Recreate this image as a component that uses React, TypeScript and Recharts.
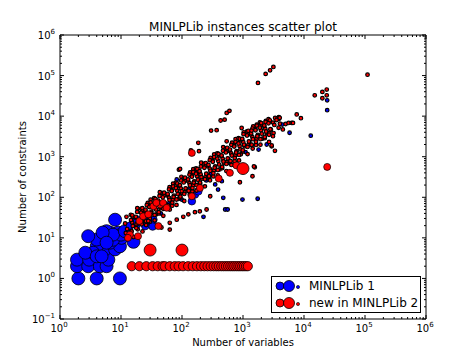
import React from "react";
import { ScatterChart, Scatter, XAxis, YAxis, Legend } from "recharts";

// axis decades
const xMajor = [1, 10, 100, 1000, 10000, 100000, 1000000];
const yMajor = [0.1, 1, 10, 100, 1000, 10000, 100000, 1000000];

// MINLPLib 1 instances: [variables, constraints]
const lib1Large: [number, number][] = [
  [2, 1], [4, 1], [9.6, 1], [1.9, 2], [1.9, 2.9], [2.9, 2], [3, 2.9], [4.5, 2],
  [5.8, 2], [6.2, 2.9], [5.5, 5.2], [8, 5.2], [9.6, 6.2], [4, 6.2], [4, 9.1],
  [3.5, 4.3], [2.6, 4.3], [4, 3.5], [2.9, 11], [6.6, 13.4], [9, 13.4], [10.2, 10],
  [8, 28], [6.6, 7.6], [4.8, 3.5], [5.8, 14.6], [7.4, 9], [10, 12], [7.4, 12],
  [5, 13.5], [5.8, 7.6], [11.6, 14.6], [16, 8],
];
const lib1Medium: [number, number][] = [
  [16, 26], [18, 21], [25, 26], [34, 28], [25, 34], [19, 28], [26, 23.5], [32, 21],
  [25, 19.5], [18, 24], [25, 37], [33, 19], [163, 117], [185, 140], [145, 80], [14, 20],
];
const lib1Small: [number, number][] = [
  [82, 275], [175, 400], [510, 50], [560, 50], [225, 33], [390, 155], [350, 207],
  [475, 97], [93, 117], [99, 88], [450, 250], [2450, 2000], [4400, 6200], [5800, 3900],
  [12900, 3300], [24000, 24600], [24000, 14000], [980, 88], [1740, 92], [130, 160],
  [250, 260], [600, 700], [1100, 1300], [300, 380], [60, 70], [45, 40], [1800, 1500],
];

// new in MINLPLib 2
const lib2Small: [number, number][] = [
  [12.3, 33], [11.7, 22.6], [12.6, 16.5], [12.0, 13.2],
  [14.5, 37], [15.6, 33], [15.2, 24], [14.8, 14.8], [15.9, 10.5],
  [18.5, 54], [17.4, 32], [19.1, 27.5], [18.0, 21.8], [18.8, 16.2],
  [21.3, 52], [22.7, 46], [23.3, 29], [22, 23.8], [22.5, 14.4],
  [27.5, 73], [25.2, 45], [26.5, 39.5], [26.9, 25], [25.8, 20.6],
  [30.6, 87], [29, 60], [31.5, 44], [30.2, 35], [29.6, 25],
  [34.9, 95], [37.1, 84], [36.3, 61], [38, 38], [35.6, 27],
  [43.3, 133], [40.6, 79], [42.5, 68], [44.4, 54], [41.7, 40],
  [48.5, 126], [51.5, 111], [52.9, 70], [50, 57], [49.4, 35],
  [62.5, 178], [58.1, 110], [61.2, 97], [59.5, 61], [63, 50],
  [71.4, 217], [67.8, 149], [73.5, 109], [70.4, 87], [69, 62],
  [79.6, 228], [84.5, 203], [82.8, 147], [86.7, 91], [81.2, 65],
  [97.8, 320], [92.2, 190], [95.9, 164], [100.4, 130], [94, 97],
  [106.6, 293], [113.3, 259], [116.4, 162], [110, 133], [108.8, 81],
  [136, 410], [126.1, 253], [132.7, 222], [129, 140], [134, 116],
  [153, 492], [145.5, 337], [158, 247], [151, 197], [148, 140],
  [169.8, 513], [180.2, 457], [176.8, 331], [185, 205], [173.4, 146],
  [206, 709], [194, 421], [202.2, 364], [212, 287], [198.5, 214],
  [232.8, 674], [247.3, 595], [254, 372], [240.5, 307], [237.6, 186],
  [295, 932], [271.6, 575], [285.7, 504], [278, 318], [288, 263],
  [336.6, 1145], [320, 785], [349.5, 576], [333, 458], [326, 327],
  [378, 1212], [401.7, 1079], [393.5, 782], [413, 485], [386, 344],
  [473.8, 1726], [446, 1026], [465, 886], [487.6, 700], [455, 522],
  [523.8, 1605], [556, 1417], [571, 886], [540, 731], [534, 443],
  [661, 2220], [611, 1371], [640, 1202], [624, 757], [646, 627],
  [754.8, 2714], [718, 1861], [784, 1365], [747, 1086], [731, 776],
  [844, 2858], [896, 2545], [879, 1844], [922, 1143], [861, 811],
  [1030, 4000], [970, 2640], [1011, 2280], [1060, 1800], [993, 1344],
  [1164, 4200], [1236, 3712], [1272, 2320], [1200, 1914], [1188, 1160],
  [1470, 5610], [1358, 3465], [1428, 3036], [1386, 1914], [1442, 1584],
  [1683, 6200], [1600, 4680], [1749, 3432], [1666, 2730], [1633, 1950],
  [1892, 6975], [2008, 6210], [1970, 4500], [2067, 2790], [1930, 1980],
  [2369, 7600], [2231, 5610], [2323, 4845], [2438, 3825], [2277, 2856],
  [2619, 8400], [2781, 7424], [2862, 4640], [2700, 3828], [2673, 2320],
  [3360, 9000], [3104, 6930], [3264, 6072], [3168, 3828],
  [3876, 9400], [3686, 8880], [4028, 6512], [3838, 5180],
  // more of the main band
  [15.3, 36], [14.6, 27.5], [15.6, 19.6], [14.9, 14.3],
  [18.4, 43.5], [17.5, 33], [18.7, 23.8], [17.8, 17.4],
  [22.4, 54], [21.3, 41.4], [22.9, 29.5], [21.8, 21.6],
  [26.5, 64.5], [25.2, 49.5], [27, 35], [25.7, 25.8],
  [30.6, 75], [29.1, 57.5], [31.2, 41], [29.7, 30],
  [36.7, 91.5], [34.9, 70], [37.4, 50], [35.6, 36.6],
  [42.8, 108], [40.7, 83], [43.7, 59], [41.6, 43],
  [51, 130], [48.5, 100], [52, 71], [49.5, 52],
  [61.2, 157], [58.2, 121], [62.4, 86], [59.4, 63],
  [71.4, 186], [67.9, 143], [72.8, 102], [69.3, 74],
  [83.6, 220], [79.5, 169], [85.3, 120], [81.2, 88],
  [96.9, 260], [92.2, 199], [98.8, 142], [94, 104],
  [112, 303], [106.7, 232], [114.4, 166], [109, 121],
  [132.6, 361], [126, 277], [135, 198], [128.7, 145],
  [153, 421], [145.5, 323], [156, 230], [148.5, 169],
  [178.5, 496], [169.8, 381], [182, 271], [173, 199],
  [204, 574], [194, 440], [208, 314], [198, 230],
  [244.8, 697], [232.8, 535], [249.6, 381], [237.6, 279],
  [285.6, 822], [271.6, 630], [291, 449], [277, 329],
  [336.6, 981], [320, 752], [343, 536], [326.7, 392],
  [397.8, 1173], [378, 899], [405.6, 641], [386, 469],
  [469, 1400], [446, 1073], [478, 765], [455, 560],
  [551, 1660], [524, 1273], [561.6, 908], [534.6, 664],
  [642.6, 1959], [611, 1502], [655, 1071], [623.7, 784],
  [754.8, 2327], [718, 1784], [770, 1272], [732.6, 931],
  [887, 2766], [844, 2121], [905, 1512], [861, 1106],
  [1020, 3600], [970, 2760], [1040, 1968], [990, 1440],
  [1224, 4350], [1164, 3335], [1248, 2378], [1188, 1740],
  [1428, 4950], [1358, 3795], [1456, 2706], [1386, 1980],
  [1683, 5850], [1600, 4485], [1716, 3198], [1633, 2340],
  [1989, 6750], [1891, 5175], [2028, 3690], [1930, 2700],
  [2346, 7200], [2231, 5865], [2392, 4182], [2277, 3060],
  [2754, 7900], [2619, 6670], [2808, 4756], [2673, 3480],
  // below the band
  [46, 18], [63, 23.5], [82, 28], [105, 33], [127, 38], [163, 43], [196, 45], [253, 50],
  [63, 16], [28, 26], [290, 106], [1560, 550], [1430, 330], [3340, 1400], [2950, 1800],
  [890, 235], [2950, 1900], [1510, 575], [3100, 3200], [89, 480],
  // above the band
  [185, 2200], [190, 1370], [93, 500], [140, 1440], [540, 12000], [600, 13500], [500, 8200],
  [430, 7800], [370, 4500], [300, 4400], [950, 5100], [1380, 4400], [540, 2400],
  [3150, 163000], [2780, 135000], [2350, 110000], [1760, 66000],
  [15000, 32600], [20000, 39600], [23600, 45200], [20000, 27600], [23600, 32600], [110000, 105000],
  [7600, 11000], [8900, 8900], [4500, 4700], [5000, 6400], [5600, 6800], [6300, 6800], [6600, 6800],
  [3900, 8600], [3550, 8000], [4000, 9100],
];
const lib2Medium: [number, number][] = [
  [14, 12], [19, 11], [20, 26], [23, 34], [28, 38], [34, 60], [44, 66], [38, 73], [49, 73],
  [56, 55], [41, 19.5], [145, 1240], [780, 610], [610, 400], [400, 290], [197, 170],
  [145, 106], [24000, 560], [13, 10],
];
const lib2Large: [number, number][] = [[30, 5], [100, 5], [1000, 510]];
// instances with 2 constraints
const lib2RowVars = [
  15, 20, 26, 33, 40, 48, 52, 63, 76, 88, 104, 126, 150, 176, 204, 232, 262, 295, 330,
  365, 400, 440, 480, 525, 570, 620, 670, 720, 780, 840, 900, 970, 1040, 1120, 1200,
];
const lib2RowCons = 2;

const toPts = (a: [number, number][]) => a.map(([x, y]) => ({ x, y }));

const FONT = "DejaVu Sans, sans-serif";
const BLUE = "#0000ff";
const RED = "#ff0000";

const withMinor = (majors: number[]) =>
  majors.flatMap((m, i) =>
    i === majors.length - 1 ? [m] : [1, 2, 3, 4, 5, 6, 7, 8, 9].map((k) => m * k)
  );
const isMajor = (v: number) => Math.abs(Math.log10(v) - Math.round(Math.log10(v))) < 1e-6;

const makeTick = (side: "bottom" | "top" | "left" | "right") => (props: any) => {
  const { x, y, payload } = props;
  const v = payload.value;
  const major = isMajor(v);
  const len = major ? 4 : 2;
  const exp = Math.round(Math.log10(v));
  const expText = exp < 0 ? "\u2212" + Math.abs(exp) : String(exp);
  let line;
  if (side === "bottom") line = <line x1={x} y1={y} x2={x} y2={y - len} stroke="#000" />;
  else if (side === "top") line = <line x1={x} y1={y} x2={x} y2={y + len} stroke="#000" />;
  else if (side === "left") line = <line x1={x} y1={y} x2={x + len} y2={y} stroke="#000" />;
  else line = <line x1={x} y1={y} x2={x - len} y2={y} stroke="#000" />;
  let label = null;
  if (major && side === "bottom") {
    label = (
      <text x={x - 1} y={y + 13} textAnchor="middle" fontSize={10} fontFamily={FONT} fill="#000">
        <tspan>10</tspan>
        <tspan dy={-5} fontSize={7}>{expText}</tspan>
      </text>
    );
  } else if (major && side === "left") {
    label = (
      <text x={x - 5} y={y + 4} textAnchor="end" fontSize={10} fontFamily={FONT} fill="#000">
        <tspan>10</tspan>
        <tspan dy={-5} fontSize={7}>{expText}</tspan>
      </text>
    );
  }
  return (
    <g>
      {line}
      {label}
    </g>
  );
};

const dot = (r: number, fill: string, sw: number) => (p: any) =>
  <circle cx={p.cx} cy={p.cy} r={r} fill={fill} stroke="#000" strokeWidth={sw} />;

const LegendBox = () => {
  const rows = [
    { c: BLUE, t: "MINLPLib 1" },
    { c: RED, t: "new in MINLPLib 2" },
  ];
  return (
    <div
      style={{
        width: 148,
        height: 35,
        border: "1px solid #000",
        background: "#fff",
        fontFamily: FONT,
        fontSize: 12,
      }}
    >
      {rows.map((r) => (
        <div key={r.t} style={{ display: "flex", alignItems: "center", height: 17 }}>
          <svg width={36} height={16}>
            <circle cx={8} cy={8} r={4} fill={r.c} stroke="#000" strokeWidth={0.8} />
            <circle cx={17} cy={8} r={5.5} fill={r.c} stroke="#000" strokeWidth={0.8} />
            <circle cx={26} cy={9} r={1.6} fill={r.c} stroke="#000" strokeWidth={0.6} />
          </svg>
          <span style={{ marginLeft: 1 }}>{r.t}</span>
        </div>
      ))}
    </div>
  );
};

export default function App() {
  const xTicks = withMinor(xMajor);
  const yTicks = withMinor(yMajor);
  const rowPts = lib2RowVars.map((x) => ({ x, y: lib2RowCons }));
  const axisCommon = {
    type: "number" as const,
    scale: "log" as const,
    allowDataOverflow: true,
    tickLine: false,
    tickSize: 0,
    tickMargin: 0,
    interval: 0 as const,
    axisLine: { stroke: "#000" },
  };
  return (
    <div style={{ margin: -8 }}>
      <ScatterChart
        width={474}
        height={355}
        margin={{ top: 34, right: 47, bottom: 35, left: 59 }}
        style={{ background: "#fff" }}
      >
        <XAxis {...axisCommon} dataKey="x" domain={[1, 1e6]} ticks={xTicks} height={1} tick={makeTick("bottom")} />
        <XAxis {...axisCommon} xAxisId="top" orientation="top" dataKey="x" domain={[1, 1e6]} ticks={xTicks} height={1} tick={makeTick("top")} />
        <YAxis {...axisCommon} dataKey="y" domain={[0.1, 1e6]} ticks={yTicks} width={1} tick={makeTick("left")} />
        <YAxis {...axisCommon} yAxisId="right" orientation="right" dataKey="y" domain={[0.1, 1e6]} ticks={yTicks} width={1} tick={makeTick("right")} />
        <Scatter xAxisId="top" yAxisId="right" data={[{ x: 1, y: 0.1 }]} shape={() => <g />} isAnimationActive={false} />
        <Scatter data={toPts(lib1Large)} shape={dot(6.5, BLUE, 0.8)} isAnimationActive={false} />
        <Scatter data={toPts(lib1Medium)} shape={dot(3.8, BLUE, 0.7)} isAnimationActive={false} />
        <Scatter data={toPts(lib1Small)} shape={dot(1.8, BLUE, 1.2)} isAnimationActive={false} />
        <Scatter data={toPts(lib2Small)} shape={dot(1.8, RED, 1.2)} isAnimationActive={false} />
        <Scatter data={toPts(lib2Medium)} shape={dot(3.5, RED, 0.7)} isAnimationActive={false} />
        <Scatter data={rowPts} shape={dot(4.6, RED, 0.8)} isAnimationActive={false} />
        <Scatter data={toPts(lib2Large)} shape={dot(6, RED, 0.8)} isAnimationActive={false} />
        <Legend
          layout="vertical"
          align="center"
          verticalAlign="middle"
          wrapperStyle={{ left: 271, top: 276, width: 150 }}
          content={() => <LegendBox />}
        />
        <text x={243} y={31} textAnchor="middle" fontSize={12} fontFamily={FONT} fill="#000">
          MINLPLib instances scatter plot
        </text>
        <text x={243} y={346} textAnchor="middle" fontSize={10} fontFamily={FONT} fill="#000">
          Number of variables
        </text>
        <text
          x={22}
          y={177}
          transform="rotate(-90 22 177)"
          textAnchor="middle"
          dominantBaseline="central"
          fontSize={10}
          fontFamily={FONT}
          fill="#000"
        >
          Number of constraints
        </text>
      </ScatterChart>
    </div>
  );
}
